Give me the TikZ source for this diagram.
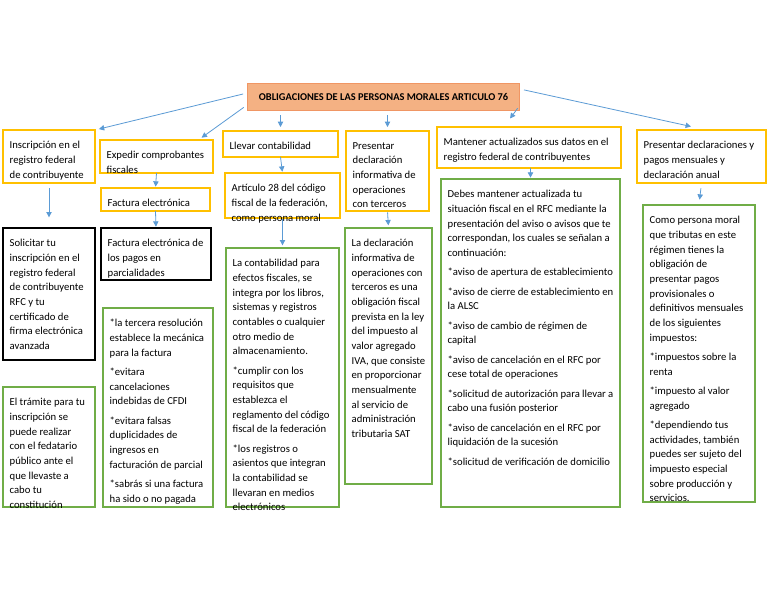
\documentclass[tikz,border=0pt]{standalone}
\usepackage{fontspec}
\setmainfont{Carlito}
\usetikzlibrary{arrows.meta}
\definecolor{yel}{HTML}{FFC000}
\definecolor{grn}{HTML}{70AD47}
\definecolor{arr}{HTML}{5B9BD5}
\definecolor{sal}{HTML}{F4B183}
\tikzset{
  bx/.style={draw,line width=1pt,anchor=north west,inner sep=0pt,outer sep=0pt,font=\fontsize{8}{11}\selectfont},
  ybox/.style={bx,draw=yel},
  gbox/.style={bx,draw=grn},
  kbox/.style={bx,draw=black},
  ar/.style={draw=arr,line width=0.6pt,-{Triangle[length=4pt,width=4pt]},shorten >=3pt,shorten <=3pt}
}
% name, x1,y1,x2,y2 (px), style, text
\newcommand{\bx}[7]{%
  \node[#6,minimum width={0.75pt*(#4-#2)},minimum height={0.75pt*(#5-#3)}] (#1) at (#2,#3)
  {\parbox[c][\dimexpr 0.75pt*(#5-#3)-6pt\relax][t]{\dimexpr 0.75pt*(#4-#2)-10pt\relax}{\raggedright\setlength{\parskip}{3.5pt}\vspace{2pt}#7}};}
\begin{document}
\begin{tikzpicture}[x=0.75pt,y=-0.75pt]
\useasboundingbox (0,0) rectangle (768,594);
\fill[white] (0,0) rectangle (768,594);
\node[draw={rgb,255:red,240;green,150;blue,100},fill=sal,line width=0.8pt,anchor=north west,minimum width={0.75pt*272},minimum height={0.75pt*27},inner sep=0pt,font=\fontsize{7.8}{10}\selectfont] (title) at (247,83) {\textbf{OBLIGACIONES DE LAS PERSONAS MORALES ARTICULO 76}};

\bx{a1}{3}{130}{95}{183}{ybox}{Inscripción en el registro federal de contribuyente}
\bx{a2}{3}{228}{95}{360}{kbox}{Solicitar tu inscripción en el registro federal de contribuyente RFC y tu certificado de firma electrónica avanzada}
\bx{a3}{3}{387}{95}{507}{gbox}{El trámite para tu inscripción se puede realizar con el fedatario público ante el que llevaste a cabo tu constitución}

\bx{b1}{100}{140}{213}{173}{ybox}{Expedir comprobantes fiscales}
\bx{b2}{101}{188}{210}{211}{ybox}{Factura electrónica}
\bx{b3}{101}{228}{211}{280}{kbox}{Factura electrónica de los pagos en parcialidades}
\bx{b4}{103}{308}{213}{507}{gbox}{*la tercera resolución establece la mecánica para la factura\par *evitara cancelaciones indebidas de CFDI\par *evitara falsas duplicidades de ingresos en facturación de parcial\par *sabrás si una factura ha sido o no pagada}

\bx{c1}{223}{131}{338}{157}{ybox}{Llevar contabilidad}
\bx{c2}{225}{173}{340}{218}{ybox}{Artículo 28 del código fiscal de la federación, como persona moral}
\bx{c3}{226}{248}{339}{507}{gbox}{La contabilidad para efectos fiscales, se integra por los libros, sistemas y registros contables o cualquier otro medio de almacenamiento.\par *cumplir con los requisitos que establezca el reglamento del código fiscal de la federación\par *los registros o asientos que integran la contabilidad se llevaran en medios electrónicos}

\bx{d1}{346}{131}{429}{211}{ybox}{Presentar declaración informativa de operaciones con terceros}
\bx{d2}{345}{228}{432}{484}{gbox}{La declaración informativa de operaciones con terceros es una obligación fiscal prevista en la ley del impuesto al valor agregado IVA, que consiste en proporcionar mensualmente al servicio de administración tributaria SAT}

\bx{e1}{437}{127}{621}{168}{ybox}{Mantener actualizados sus datos en el registro federal de contribuyentes}
\bx{e2}{441}{179}{620}{507}{gbox}{Debes mantener actualizada tu situación fiscal en el RFC mediante la presentación del aviso o avisos que te correspondan, los cuales se señalan a continuación:\par *aviso de apertura de establecimiento\par *aviso de cierre de establecimiento en la ALSC\par *aviso de cambio de régimen de capital\par *aviso de cancelación en el RFC por cese total de operaciones\par *solicitud de autorización para llevar a cabo una fusión posterior\par *aviso de cancelación en el RFC por liquidación de la sucesión\par *solicitud de verificación de domicilio}

\bx{f1}{637}{130}{766}{183}{ybox}{Presentar declaraciones y pagos mensuales y declaración anual}
\bx{f2}{643}{205}{755}{502}{gbox}{Como persona moral que tributas en este régimen tienes la obligación de presentar pagos provisionales o definitivos mensuales de los siguientes impuestos:\par *impuestos sobre la renta\par *impuesto al valor agregado\par *dependiendo tus actividades, también puedes ser sujeto del impuesto especial sobre producción y servicios.}

\draw[ar] ([yshift=3pt]title.west) -- (a1.north east);
\draw[ar] ([yshift=-6pt]title.west) -- ([xshift=-11pt]b1.north east);
\draw[ar] (title.south -| c1.north) -- (c1.north);
\draw[ar] (title.south -| d1.north) -- (d1.north);
\draw[ar] ([yshift=-6pt]title.east) -- ([xshift=-16pt,yshift=4pt]e1.north);
\draw[ar] ([yshift=6pt]title.east) -- ([xshift=-5pt,yshift=2pt]f1.north);
\draw[ar,shorten <=4pt,shorten >=8pt] (a1.south) -- (a2.north);
\draw[ar,shorten >=1pt,shorten <=0pt] (b1.south) -- (b2.north);
\draw[ar,shorten >=1pt,shorten <=0pt] (b2.south) -- (b3.north);
\draw[ar,shorten >=1pt,shorten <=0pt] (c1.south) -- (c2.north);
\draw[ar,shorten >=2pt,shorten <=1pt] (c2.south) -- (c3.north);
\draw[ar,shorten >=2pt,shorten <=1pt] (d1.south) -- (d2.north);
\draw[ar,shorten >=1pt,shorten <=0pt] (e1.south -| e2.north) -- (e2.north);
\draw[ar,shorten >=4pt,shorten <=4pt] (f1.south) -- (f2.north);
\end{tikzpicture}
\end{document}
